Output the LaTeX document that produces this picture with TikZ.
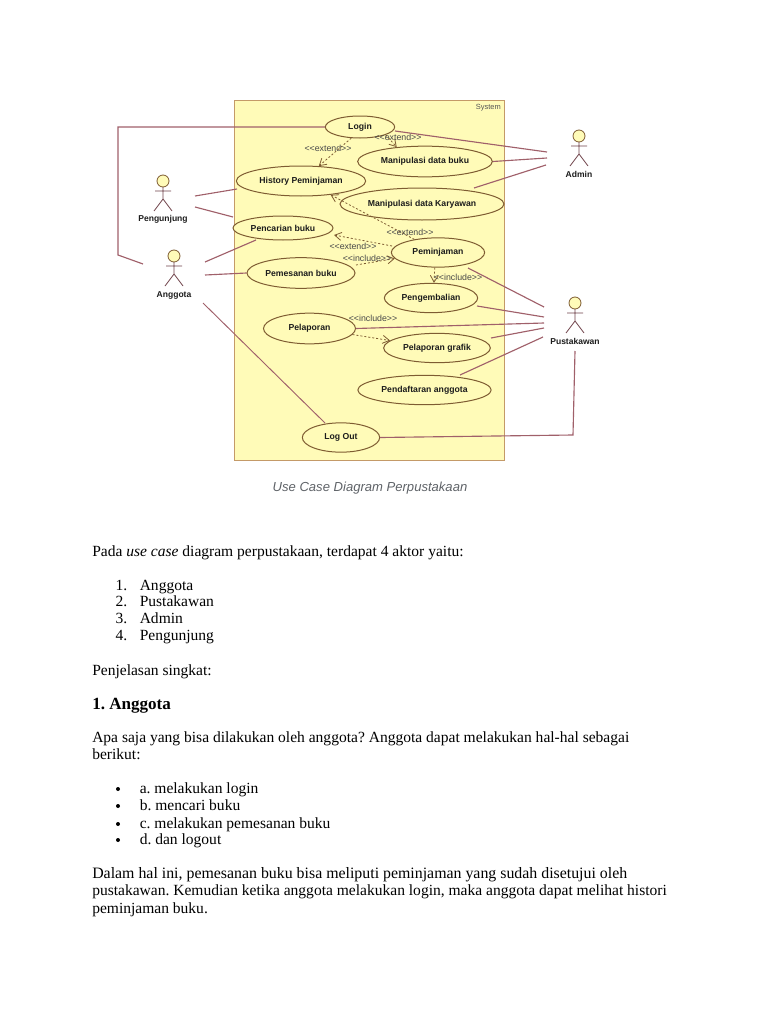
\documentclass[tikz,border=0pt]{standalone}
\usepackage{fontspec}
\setmainfont{Liberation Serif}
\setsansfont{Liberation Sans}
\usetikzlibrary{arrows.meta,shapes.geometric}
\definecolor{sysfill}{HTML}{FFFBB8}
\definecolor{sysline}{HTML}{C49A68}
\definecolor{ucline}{HTML}{7E5C32}
\definecolor{assoc}{HTML}{A0606A}
\definecolor{ink}{HTML}{1C1C1C}
\definecolor{capt}{HTML}{5F6368}
\tikzset{
 x=0.75pt,y=-0.75pt,
 uc/.style={draw=ucline,line width=0.75pt,fill=sysfill,ellipse,inner sep=0pt,font=\sffamily\bfseries\fontsize{6.5}{7}\selectfont,text=ink},
 assocline/.style={draw=assoc,line width=0.85pt},
 dep/.style={draw=ucline,line width=0.6pt,dash pattern=on 1.5pt off 1.5pt,-{Straight Barb[length=5pt,width=6pt]}},
 deplabel/.style={font=\sffamily\fontsize{6.6}{7}\selectfont,text=ink!80,inner sep=0pt},
 actorlabel/.style={font=\sffamily\bfseries\fontsize{6.4}{7}\selectfont,text=ink,inner sep=0pt},
 body/.style={anchor=base west,inner sep=0pt,font=\fontsize{11.65}{13}\selectfont,text=black},
}
\newcommand{\actor}[3]{% name, x, y of head centre
 \draw[draw=ucline,fill=sysfill,line width=0.6pt] (#2,#3) circle[radius=4.5pt];
 \draw[draw=assoc!70!black,line width=0.6pt] (#2,#3+6) -- (#2,#3+18) (#2-8,#3+10) -- (#2+8,#3+10) (#2-9,#3+30) -- (#2,#3+18) -- (#2+9,#3+30);
}
\begin{document}
\frenchspacing
\begin{tikzpicture}
\useasboundingbox (0,0) rectangle (768,1024);
\fill[white] (0,0) rectangle (768,1024);
\node[draw=sysline,fill=sysfill,line width=1.1pt,minimum width=202.5pt,minimum height=270pt,inner sep=0pt] (sys) at (369.5,280.5) {};
\node[font=\sffamily\fontsize{5.6}{6}\selectfont,text=ink!75,inner sep=0pt,anchor=north east] (systxt) at (501,104) {System};

\node[uc,minimum width=52pt,minimum height=16.5pt] (login) at (360,127) {Login};
\node[uc,minimum width=101pt,minimum height=23pt] (manbuku) at (425,161.5) {Manipulasi data buku};
\node[uc,minimum width=97pt,minimum height=22.5pt] (hist) at (301,181) {History Peminjaman};
\node[uc,minimum width=123pt,minimum height=24pt] (mankar) at (422,204) {Manipulasi data Karyawan};
\node[uc,minimum width=75pt,minimum height=18pt] (cari) at (283,228) {Pencarian buku};
\node[uc,minimum width=70pt,minimum height=22pt] (pinjam) at (438,252.5) {Peminjaman};
\node[uc,minimum width=81pt,minimum height=23pt] (pesan) at (301,273) {Pemesanan buku};
\node[uc,minimum width=70pt,minimum height=22pt] (kembali) at (431,298) {Pengembalian};
\node[uc,minimum width=69pt,minimum height=23pt] (lapor) at (309.5,328.5) {Pelaporan};
\node[uc,minimum width=80pt,minimum height=22pt] (grafik) at (437,348) {Pelaporan grafik};
\node[uc,minimum width=100pt,minimum height=22pt] (daftar) at (424.5,390) {Pendaftaran anggota};
\node[uc,minimum width=58pt,minimum height=22pt] (logout) at (341,437.5) {Log Out};

\coordinate (pA1) at (547,152);
\coordinate (pA2) at (547,158);
\coordinate (pA3) at (546,165);
\coordinate (sA3) at (474,188);
\coordinate (pP1) at (544,307);
\coordinate (sP1) at (468,268);
\coordinate (pP2) at (544,317);
\coordinate (sP2) at (477,306);
\coordinate (pP3) at (544,323);
\coordinate (pP4) at (544,328);
\coordinate (sP4) at (491,338);
\coordinate (pP5) at (543,337);
\coordinate (sP5) at (460,375);
\coordinate (pP6) at (575,351);
\coordinate (sL) at (395,131);
\coordinate (pK1) at (195,196);
\coordinate (pK2) at (195,207);
\coordinate (eK1) at (237,189);
\coordinate (eK2) at (233,217);
\coordinate (aA1) at (143,264);
\coordinate (aA2) at (205,262);
\coordinate (aA3) at (205,275);
\coordinate (aA4) at (203,303);
\coordinate (eA2) at (256,240);
\coordinate (eA4) at (325,423);
\coordinate (c1) at (118,127);
\coordinate (c2) at (118,255);
\coordinate (c3) at (573,435);
\coordinate (d4a) at (392,246);
\coordinate (d4b) at (334,235);
\coordinate (d5a) at (356,265);

\draw[assocline] (login.west) -- (c1) -- (c2) -- (aA1);
\draw[assocline] (pK1) -- (eK1);
\draw[assocline] (pK2) -- (eK2);
\draw[assocline] (aA2) -- (eA2);
\draw[assocline] (aA3) -- (pesan.west);
\draw[assocline,line width=0.7pt] (aA4) -- (eA4);
\draw[assocline] (sL) -- (pA1);
\draw[assocline] (manbuku.east) -- (pA2);
\draw[assocline] (sA3) -- (pA3);
\draw[assocline] (sP1) -- (pP1);
\draw[assocline] (sP2) -- (pP2);
\draw[assocline] (lapor.east) -- (pP3);
\draw[assocline] (sP4) -- (pP4);
\draw[assocline] (sP5) -- (pP5);
\draw[assocline] (logout.east) -- (c3) -- (pP6);

\draw[dep] (login.-128) -- (hist.40);
\draw[dep] (login.-17) -- (manbuku.153);
\draw[dep] (pinjam.151) -- (hist.-25);
\draw[dep] (d4a) -- (d4b);
\draw[dep] (d5a) -- (pinjam.188);
\draw[dep] (pinjam.-102) -- (kembali.79);
\draw[dep] (lapor.-8) -- (grafik.171);

\node[deplabel] (l1) at (328,148) {<{}<extend>{}>};
\node[deplabel] (l2) at (398,137) {<{}<extend>{}>};
\node[deplabel] (l3) at (410,232) {<{}<extend>{}>};
\node[deplabel] (l4) at (353,246) {<{}<extend>{}>};
\node[deplabel] (l5) at (367,258) {<{}<include>{}>};
\node[deplabel] (l6) at (458,277) {<{}<include>{}>};
\node[deplabel] (l7) at (373,318) {<{}<include>{}>};

\actor{pengunjung}{163}{181}
\actor{anggota}{174}{256}
\actor{admin}{579}{136}
\actor{pustakawan}{575}{303}
\node[actorlabel] (n1) at (163,219) {Pengunjung};
\node[actorlabel] (n2) at (174,295) {Anggota};
\node[actorlabel] (n3) at (579,174) {Admin};
\node[actorlabel] (n4) at (575,341) {Pustakawan};

\node[font=\sffamily\itshape\fontsize{9.8}{11}\selectfont,text=capt,inner sep=0pt] (cap) at (370,488.5) {Use Case Diagram Perpustakaan};

\node[body] (t1) at (92,556) {Pada \textit{use case} diagram perpustakaan, terdapat 4 aktor yaitu:};
\node[body,anchor=base east] (i1) at (127.5,590) {1.};
\node[body] (i1t) at (139.5,590) {Anggota};
\node[body,anchor=base east] (i2) at (127.5,606) {2.};
\node[body] (i2t) at (139.5,606) {Pustakawan};
\node[body,anchor=base east] (i3) at (127.5,623) {3.};
\node[body] (i3t) at (139.5,623) {Admin};
\node[body,anchor=base east] (i4) at (127.5,640) {4.};
\node[body] (i4t) at (139.5,640) {Pengunjung};
\node[body] (t2) at (92,675) {Penjelasan singkat:};
\node[body,font=\bfseries\fontsize{12.8}{14}\selectfont] (h1) at (92,709) {1. Anggota};
\node[body] (t3) at (92,742) {Apa saja yang bisa dilakukan oleh anggota? Anggota dapat melakukan hal-hal sebagai};
\node[body] (t3b) at (92,759) {berikut:};
\foreach \yy/\nm/\tx in {793/b1/a. melakukan login,810/b2/b. mencari buku,828/b3/c. melakukan pemesanan buku,844/b4/d. dan logout}{
 \fill[black] (118,\yy-4) circle[radius=1.5pt];
 \node[body] (\nm) at (139.5,\yy) {\tx};
}
\node[body,font=\fontsize{11.9}{13}\selectfont] (t4) at (92,878) {Dalam hal ini, pemesanan buku bisa meliputi peminjaman yang sudah disetujui oleh};
\node[body] (t4b) at (92,895) {pustakawan. Kemudian ketika anggota melakukan login, maka anggota dapat melihat histori};
\node[body] (t4c) at (92,913) {peminjaman buku.};
\end{tikzpicture}
\end{document}
